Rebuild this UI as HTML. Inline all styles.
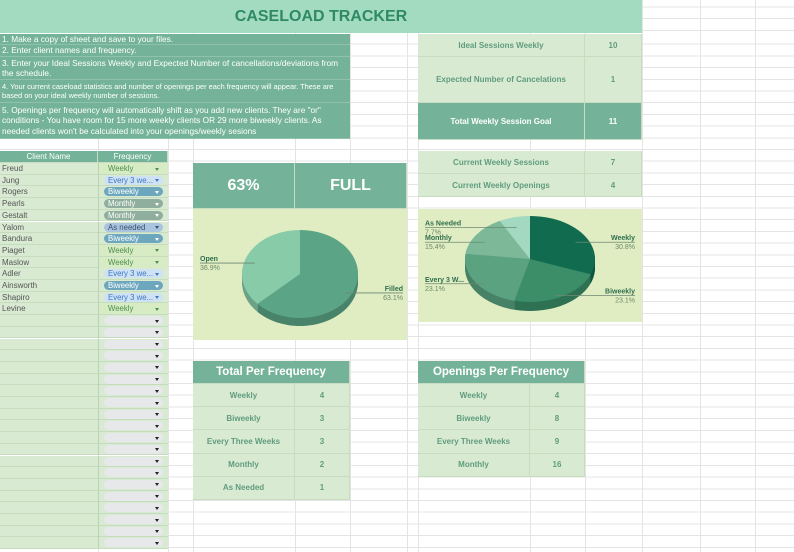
<!DOCTYPE html>
<html><head><meta charset="utf-8">
<style>
*{box-sizing:border-box;margin:0;padding:0}
body{width:794px;height:552px;overflow:hidden;position:relative;background:#fff;font-family:"Liberation Sans",Arial,sans-serif}
.grid{position:absolute;left:0;top:0;width:794px;height:552px;
background-image:repeating-linear-gradient(to bottom,transparent 0,transparent 10.7px,#e4e4e4 10.7px,#e4e4e4 11.7px);background-position:0 33px}
.v{position:absolute;top:0;width:1px;height:552px;background:#e4e4e4}
.abs{position:absolute}
.title{left:0;top:0;width:642px;height:33px;background:#a3dbc0;color:#2f8a64;font-weight:bold;font-size:16px;text-align:center;line-height:33px;padding-left:0}
.ins{left:0;width:350px;background:#74b39a;color:#fff;font-size:8.3px;line-height:10.5px;padding:1px 2px;border-bottom:1px solid #8ec2ad;display:flex;align-items:center}
.cell{position:absolute;display:flex;align-items:center;justify-content:center;font-size:8px;font-weight:bold;color:#5f9c7d;background:#d9ead3;border-bottom:1px solid #c8dcc2;border-right:1px solid #c8dcc2}
.dark{background:#74b39a;color:#fff}
.hdr{background:#74b39a;color:#fff;font-size:11.5px}
.lrow{position:absolute;left:0;width:168px;height:11.7px;border-bottom:1px solid #c5dcbf;font-size:8px;color:#555;line-height:11px}
.lrow .n{position:absolute;left:2px;top:0}
.lrow .c{position:absolute;left:98px;top:0;width:70px;height:11px;border-left:1px solid #b9d3b2}
.chip{position:absolute;left:5px;top:1px;width:59px;height:9px;border-radius:5px;font-size:7.8px;line-height:9px;padding-left:4px;white-space:nowrap;overflow:hidden}
.chip:after{content:"";position:absolute;right:4px;top:3.5px;border-left:2.5px solid transparent;border-right:2.5px solid transparent;border-top:3px solid currentColor}
</style></head><body>
<div class="grid"></div>
<div class="v" style="left:98px"></div><div class="v" style="left:168px"></div><div class="v" style="left:193px"></div>
<div class="v" style="left:295px"></div><div class="v" style="left:350px"></div><div class="v" style="left:407px"></div>
<div class="v" style="left:418px"></div><div class="v" style="left:530px"></div><div class="v" style="left:585px"></div>
<div class="v" style="left:642px"></div><div class="v" style="left:700px"></div><div class="v" style="left:755px"></div>

<div class="abs title">CASELOAD TRACKER</div>

<div class="abs ins" style="top:34px;height:11px">1. Make a copy of sheet and save to your files.</div>
<div class="abs ins" style="top:45px;height:12px">2. Enter client names and frequency.</div>
<div class="abs ins" style="top:57px;height:23px">3. Enter your Ideal Sessions Weekly and Expected Number of cancellations/deviations from the schedule.</div>
<div class="abs ins" style="top:80px;height:23px;font-size:7.4px;line-height:9.5px">4. Your current caseload statistics and number of openings per each frequency will appear. These are based on your ideal weekly number of sessions.</div>
<div class="abs ins" style="top:103px;height:36px">5. Openings per frequency will automatically shift as you add new clients. They are "or" conditions - You have room for 15 more weekly clients OR 29 more biweekly clients. As needed clients won't be calculated into your openings/weekly sesions</div>

<div class="cell" style="left:418px;top:34px;width:167px;height:23px">Ideal Sessions Weekly</div>
<div class="cell" style="left:585px;top:34px;width:57px;height:23px">10</div>
<div class="cell" style="left:418px;top:57px;width:167px;height:46px">Expected Number of Cancelations</div>
<div class="cell" style="left:585px;top:57px;width:57px;height:46px">1</div>
<div class="cell dark" style="left:418px;top:103px;width:167px;height:37px">Total Weekly Session Goal</div>
<div class="cell dark" style="left:585px;top:103px;width:57px;height:37px">11</div>
<div class="cell" style="left:418px;top:151px;width:167px;height:23px">Current Weekly Sessions</div>
<div class="cell" style="left:585px;top:151px;width:57px;height:23px">7</div>
<div class="cell" style="left:418px;top:174px;width:167px;height:23px">Current Weekly Openings</div>
<div class="cell" style="left:585px;top:174px;width:57px;height:23px">4</div>

<div class="cell dark" style="left:0;top:151px;width:98px;height:12px;font-weight:normal;font-size:8px">Client Name</div>
<div class="cell dark" style="left:98px;top:151px;width:70px;height:12px;font-weight:normal;font-size:8px">Frequency</div>
<div id="clients"></div>

<div class="cell hdr" style="left:193px;top:163px;width:102px;height:46px;font-size:16px">63%</div>
<div class="cell hdr" style="left:295px;top:163px;width:112px;height:46px;font-size:16px">FULL</div>
<svg class="abs" style="left:193px;top:209px" width="214" height="131" id="pieL"></svg>
<svg class="abs" style="left:418px;top:209px" width="224" height="113" id="pieR"></svg>

<div class="cell hdr" style="left:193px;top:361px;width:157px;height:23px">Total Per Frequency</div>
<div class="cell hdr" style="left:418px;top:361px;width:167px;height:23px">Openings Per Frequency</div>
<div id="tables"></div>

<script>
const clientNames=["Freud","Jung","Rogers","Pearls","Gestalt","Yalom","Bandura","Piaget","Maslow","Adler","Ainsworth","Shapiro","Levine"];
const clientFreqs=["Weekly","Every 3 we...","Biweekly","Monthly","Monthly","As needed","Biweekly","Weekly","Weekly","Every 3 we...","Biweekly","Every 3 we...","Weekly"];
const chipStyle={"Weekly":["#d7ecc4","#4e8f4e"],"Every 3 we...":["#cfe2f3","#3d78c8"],"Biweekly":["#6da7be","#fff"],"Monthly":["#8fae9e","#fff"],"As needed":["#a9c4e0","#3a4f6a"],"":["#e6e8ea","#222"]};
const cl=document.getElementById('clients');
for(let i=0;i<33;i++){
  const r=document.createElement('div');r.className='lrow';r.style.top=(163+i*11.7)+'px';r.style.background='#d9ead3';
  
  
  const n=document.createElement('div');n.className='n';n.textContent=clientNames[i]||'';
  
  
  const c=document.createElement('div');c.className='c';
  const f=clientFreqs[i]||'';const st=chipStyle[f];
  const ch=document.createElement('div');ch.className='chip';ch.textContent=f;ch.style.background=st[0];ch.style.color=st[1];
  if(f==='Weekly'){ch.style.background='transparent';c.style.background='#d7ecc4';}
  
  
  c.appendChild(ch);r.appendChild(n);r.appendChild(c);cl.appendChild(r);
}
const totalCats=["Weekly","Biweekly","Every Three Weeks","Monthly","As Needed"];
const totalVals=[4,3,3,2,1];
const openCats=["Weekly","Biweekly","Every Three Weeks","Monthly"];
const openVals=[4,8,9,16];
const tb=document.getElementById('tables');
function mk(x,y,w,h,t,name,inter){const d=document.createElement('div');d.className='cell';Object.assign(d.style,{left:x+'px',top:y+'px',width:w+'px',height:h+'px'});d.textContent=t;


tb.appendChild(d);}
totalCats.forEach((c,i)=>{mk(193,384+i*23.2,102,23.2,c,'total-label','false');mk(295,384+i*23.2,55,23.2,totalVals[i],'total-value','false');});
openCats.forEach((c,i)=>{mk(418,384+i*23.2,112,23.2,c,'openings-label','false');mk(530,384+i*23.2,55,23.2,openVals[i],'openings-value','false');});

const leftLabels=["Filled","Open"];
const leftValues=[63.1,36.9];
const leftColors=["#5ba485","#88cba9"];
const rightLabels=["Weekly","Biweekly","Every 3 W...","Monthly","As Needed"];
const rightValues=[30.8,23.1,23.1,15.4,7.7];
const rightColors=["#106b4f","#3b8e68","#5ba380","#7db899","#a4d9c1"];
const NS='http://www.w3.org/2000/svg';
function shade(h,f){const n=parseInt(h.slice(1),16);let r=n>>16,g=(n>>8)&255,b=n&255;return `rgb(${r*f|0},${g*f|0},${b*f|0})`;}
function pie(svg,labels,vals,cols,cx,cy,rx,ry,depth,bg,lx,rxl){
  const bgR=document.createElementNS(NS,'rect');bgR.setAttribute('width','100%');bgR.setAttribute('height','100%');bgR.setAttribute('fill',bg);
  
  
  svg.appendChild(bgR);
  const tot=vals.reduce((a,b)=>a+b,0);
  function slices(off,dark){let a0=0;vals.forEach((v,i)=>{const a1=a0+v/tot*2*Math.PI;
    const p=document.createElementNS(NS,'path');
    const x0=cx+rx*Math.sin(a0),y0=cy+off-ry*Math.cos(a0),x1=cx+rx*Math.sin(a1),y1=cy+off-ry*Math.cos(a1);
    p.setAttribute('d',`M${cx},${cy+off}L${x0},${y0}A${rx},${ry} 0 ${a1-a0>Math.PI?1:0} 1 ${x1},${y1}Z`);
    p.setAttribute('fill',dark?shade(cols[i],0.8):cols[i]);
    
    
    svg.appendChild(p);a0=a1;});}
  for(let k=depth;k>0;k--)slices(k,true);
  slices(0,false);
  let a0=0;vals.forEach((v,i)=>{const am=a0+v/tot*Math.PI;a0+=v/tot*2*Math.PI;
    const px=cx+rx*0.85*Math.sin(am),py=cy-ry*0.85*Math.cos(am)+4;const right=Math.sin(am)>0;
    const ex=right?rxl:lx;
    const ln=document.createElementNS(NS,'line');ln.setAttribute('x1',px);ln.setAttribute('y1',py);ln.setAttribute('x2',ex);ln.setAttribute('y2',py);ln.setAttribute('stroke','#6c8a74');ln.setAttribute('stroke-width','0.8');
    
    
    svg.appendChild(ln);
    [[labels[i],-2,'#2f6f4f','bold'],[v.toFixed(1)+'%',7,'#6b8a6b','normal']].forEach(t=>{
      const tx=document.createElementNS(NS,'text');tx.textContent=t[0];tx.setAttribute('x',ex);tx.setAttribute('y',py+t[1]);
      tx.setAttribute('text-anchor',right?'end':'start');tx.setAttribute('font-size','7');tx.setAttribute('font-weight',t[3]);tx.setAttribute('fill',t[2]);tx.setAttribute('font-family','Liberation Sans, sans-serif');
      
      
      svg.appendChild(tx);});
  });
}
pie(document.getElementById('pieL'),leftLabels,leftValues,leftColors,107,65,58,44,8,'#e0ecc1',7,210);
pie(document.getElementById('pieR'),rightLabels,rightValues,rightColors,112,50,65,43,9,'#e0ecc1',7,217);
</script>
</body></html>
